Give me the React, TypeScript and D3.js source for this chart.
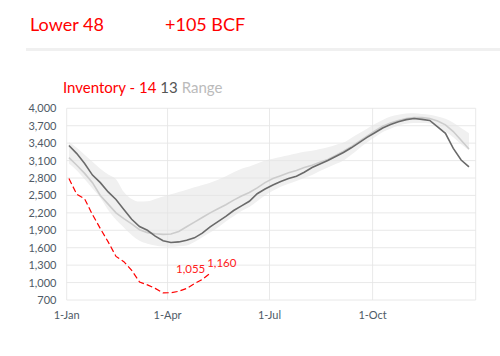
import React from "react";
import * as d3 from "d3";

const W = 500;
const H = 356;

// weekly observation days (day-of-year offsets from 1-Jan)
const weekDays: number[] = d3.range(52).map((i) => 2 + 7 * i);

const inv14: number[] = [2790, 2520, 2440, 2170, 1930, 1700, 1450, 1360, 1210, 1010, 960, 900, 822, 826, 850, 899, 981, 1055, 1160];

const inv13: number[] = [3360, 3220, 3050, 2850, 2720, 2560, 2430, 2260, 2090, 1965, 1900, 1800, 1720, 1690, 1700, 1730, 1770, 1850, 1960, 2050, 2140, 2240, 2320, 2400, 2530, 2610, 2680, 2740, 2790, 2830, 2900, 2980, 3040, 3100, 3170, 3240, 3320, 3410, 3500, 3580, 3660, 3720, 3770, 3805, 3825, 3810, 3790, 3680, 3570, 3310, 3110, 2990];

const avg5: number[] = [3150, 3020, 2880, 2720, 2500, 2350, 2200, 2100, 2010, 1910, 1860, 1840, 1830, 1835, 1880, 1960, 2040, 2120, 2200, 2270, 2340, 2420, 2490, 2550, 2630, 2720, 2790, 2840, 2890, 2930, 2980, 3020, 3070, 3120, 3190, 3260, 3340, 3430, 3520, 3610, 3690, 3745, 3790, 3825, 3840, 3840, 3825, 3780, 3715, 3600, 3450, 3300];

const rangeLow: number[] = [3050, 2930, 2780, 2620, 2460, 2250, 2080, 1950, 1820, 1720, 1670, 1640, 1620, 1615, 1625, 1640, 1700, 1780, 1860, 1950, 2050, 2140, 2230, 2300, 2400, 2500, 2580, 2650, 2700, 2750, 2800, 2850, 2920, 2980, 3040, 3100, 3200, 3310, 3410, 3500, 3590, 3650, 3700, 3735, 3745, 3745, 3740, 3680, 3600, 3500, 3380, 3280];

const rangeHigh: number[] = [3420, 3320, 3200, 3080, 2960, 2860, 2780, 2560, 2440, 2395, 2400, 2440, 2480, 2520, 2560, 2600, 2640, 2680, 2720, 2770, 2830, 2900, 2960, 3000, 3050, 3100, 3130, 3160, 3190, 3220, 3250, 3270, 3300, 3330, 3370, 3410, 3490, 3570, 3650, 3730, 3800, 3860, 3890, 3910, 3915, 3900, 3890, 3860, 3820, 3750, 3660, 3570];

const yTicks: number[] = [700, 1000, 1300, 1600, 1900, 2200, 2500, 2800, 3100, 3400, 3700, 4000];
const xTickDays: number[] = [0, 90, 181, 273];
const xTickLabels: string[] = ["1-Jan", "1-Apr", "1-Jul", "1-Oct"];

const labeled: { idx: number; text: string; anchor: string; dx: number }[] = [
  { idx: 17, text: "1,055", anchor: "end", dx: 3 },
  { idx: 18, text: "1,160", anchor: "start", dx: -3 },
];

const FONT = "Lato, 'Open Sans', sans-serif";

export default function App() {
  const x = d3.scaleLinear().domain([0, 365]).range([66.7, 475.7]);
  const y = d3.scaleLinear().domain([700, 4000]).range([300, 108.3]);

  const line = d3
    .line<number>()
    .x((_, i) => x(weekDays[i]))
    .y((d) => y(d))
    .curve(d3.curveLinear);

  const area = d3
    .area<number>()
    .x((_, i) => x(weekDays[i]))
    .y0((_, i) => y(rangeLow[i]))
    .y1((d) => y(d))
    .curve(d3.curveMonotoneX);

  const [x0, x1] = x.range();

  return (
    <svg
      width={W}
      height={H}
      style={{ position: "absolute", left: 0, top: 0, background: "#fff" }}
      fontFamily={FONT}
    >
      <text x={30} y={31} fill="#ff0000" fontSize={18}>
        Lower 48
      </text>
      <text x={165} y={31} fill="#ff0000" fontSize={18}>
        +105 BCF
      </text>
      <rect x={26} y={48} width={474} height={3} fill="#f0f0f0" />

      <text x={63} y={93} fontSize={15}>
        <tspan fill="#ff0000">Inventory - 14</tspan>
        <tspan fill="#555555" dx={4}>13</tspan>
        <tspan fill="#bbbbbb" dx={4}>Range</tspan>
      </text>

      <path d={area(rangeHigh) || ""} fill="#f0f0f0" />

      {yTicks.map((t) => (
        <line key={"gy" + t} x1={x0} x2={x1} y1={y(t)} y2={y(t)} stroke="#e6e6e6" strokeWidth={1} opacity={0.85} />
      ))}
      {[...xTickDays, 365].map((d) => (
        <line key={"gx" + d} x1={x(d)} x2={x(d)} y1={y(4000)} y2={y(700)} stroke="#e6e6e6" strokeWidth={1} opacity={0.85} />
      ))}

      {yTicks.map((t) => (
        <text key={"ly" + t} x={56.5} y={y(t) + 4} textAnchor="end" fontSize={11} fill="#4e5a66">
          {d3.format(",")(t)}
        </text>
      ))}
      {xTickDays.map((d, i) => (
        <text key={"lx" + d} x={x(d)} y={319} textAnchor="middle" fontSize={11} fill="#4e5a66">
          {xTickLabels[i]}
        </text>
      ))}

      <path d={line(avg5) || ""} fill="none" stroke="#cccccc" strokeWidth={1.6} />
      <path d={line(inv13) || ""} fill="none" stroke="#6a6a6a" strokeWidth={1.6} />
      <path d={line(inv14) || ""} fill="none" stroke="#ff0000" strokeWidth={1.2} strokeDasharray="6,3" />

      {labeled.map((l) => (
        <text
          key={l.text}
          x={x(weekDays[l.idx]) + l.dx}
          y={y(inv14[l.idx]) - 6}
          textAnchor={l.anchor}
          fontSize={11.5}
          fill="#ff2020"
        >
          {l.text}
        </text>
      ))}
    </svg>
  );
}
